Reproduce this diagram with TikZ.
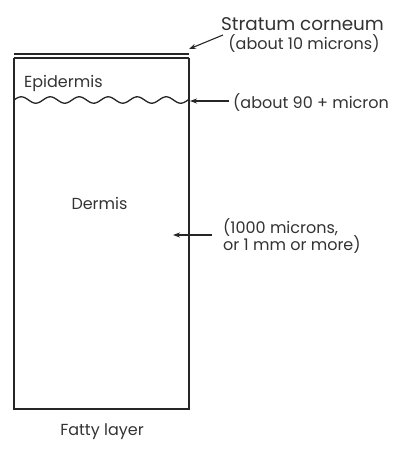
\documentclass[tikz,border=0pt]{standalone}
\usepackage{fontspec}
\setmainfont{Poppins}
\usetikzlibrary{arrows.meta}
\begin{document}
\begin{tikzpicture}[x=1pt,y=-1pt,
  lbl/.style={inner sep=0pt, font=\fontsize{16}{18}\selectfont, text=black!80},
  big/.style={lbl, font=\fontsize{18.4}{20}\selectfont},
  wall/.style={line width=1.5pt, draw=black!85},
  pointer/.style={line width=1.1pt, draw=black!85, -{Stealth[length=7pt,width=5pt]}}]
\useasboundingbox (0,0) rectangle (400,450);
% box
\draw[wall] (14,58) -- (14,409) -- (189,409) -- (189,58);
\draw[wall] (14,54) -- (189,54);
\draw[wall] (14,58) -- (189,58);
% wavy boundary
\draw[line width=1.3pt, draw=black!85, smooth, domain=14:189, samples=120]
  plot (\x, {100 - 3.2*sin(12.414*(\x-14))});
% labels
\node[big, anchor=base] (sc) at (302.5,30) {Stratum corneum};
\node[lbl, anchor=base] (sc2) at (304,49) {(about 10 microns)};
\node[lbl, anchor=base west] (epi) at (24,87) {Epidermis};
\node[lbl, anchor=base west] (ep2) at (233,108) {(about 90 + micron};
\node[lbl, anchor=base] (der) at (99.5,209) {Dermis};
\node[lbl, anchor=base west] (d1) at (223,233) {(1000 microns,};
\node[lbl, anchor=base west] (d2) at (223,250) {or 1 mm or more)};
\node[lbl, anchor=base] (fat) at (102,435) {Fatty layer};
% arrow ends
\coordinate (a1s) at (223,35);
\coordinate (a1e) at (189,49);
\coordinate (a2s) at (229,101);
\coordinate (a2e) at (190,101);
\coordinate (a3s) at (212,235);
\coordinate (a3e) at (173,235);
\draw[pointer] (a1s) -- (a1e);
\draw[pointer] (a2s) -- (a2e);
\draw[pointer] (a3s) -- (a3e);
\end{tikzpicture}
\end{document}
